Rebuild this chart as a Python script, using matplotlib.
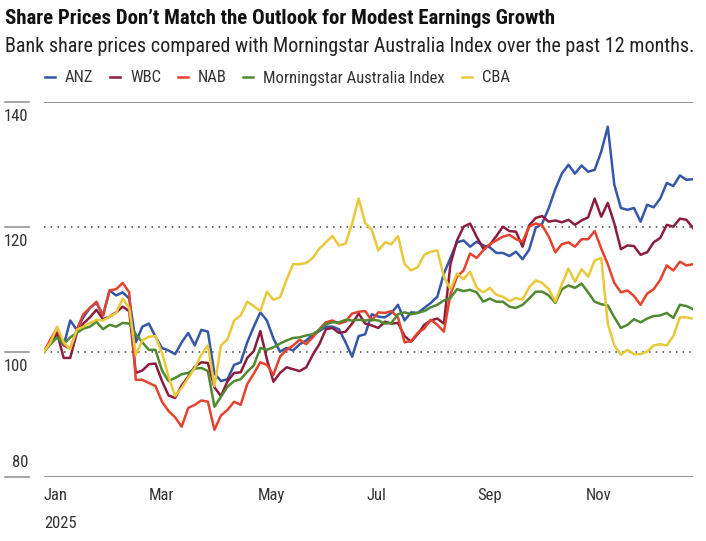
import pandas as pd
import numpy as np
import matplotlib
matplotlib.use("Agg")
import matplotlib.pyplot as plt
import matplotlib.transforms as mtransforms
from matplotlib import font_manager

# pick a condensed face, like the original chart's type
names = {f.name for f in font_manager.fontManager.ttflist}
fam = [n for n in ['Roboto Condensed', 'Archivo Narrow', 'Asap Condensed', 'Barlow Semi Condensed']
       if n in names][:1] + ['DejaVu Sans']
plt.rcParams['font.family'] = fam

# index values, sampled roughly every 3.7 days through 2025
anz = [100, 101.5, 102.5, 101, 105, 103.5, 105.5, 107, 107.8, 105.8,
       109.8, 109, 109.5, 108.5, 101.5, 104, 104.5, 102.4, 100.6, 100.2,
       99.6, 101.5, 103, 101, 103.5, 103.2, 96.5, 95.3, 95.6, 97.9,
       98.3, 101.5, 104, 106.3, 105, 102.1, 100, 100.6, 100.2, 101.2,
       101.8, 102.7, 103.3, 104, 104, 103.6, 101.5, 99.2, 102.5, 102.8,
       106, 105.6, 105.5, 106.2, 107.5, 105, 106.3, 106.2, 107, 107.8,
       108.8, 112.5, 115, 117.5, 117.8, 116.8, 117.6, 117, 116.7, 115.8,
       115.8, 115.3, 116, 114.8, 116.3, 119.8, 120.5, 123, 126, 128.5,
       129.9, 128.5, 129.8, 128.8, 129.1, 132, 136, 126.7, 123, 122.7,
       123, 120.8, 123.5, 123.1, 124.5, 127, 126.5, 128.2, 127.5, 127.6]

wbc = [100, 101.5, 103, 99, 99, 103, 104.5, 105.5, 106.7, 105.2,
       105.6, 106.3, 107.2, 106.5, 96.6, 97, 98, 98.1, 95.3, 93,
       92.6, 94.6, 96, 97.6, 98.3, 98.2, 94.3, 92.9, 95.3, 96.6,
       96.7, 99, 100.1, 103.3, 98.8, 95.2, 96.6, 97.5, 97.2, 96.9,
       97.5, 99.5, 101.2, 103.6, 103.8, 103, 103.2, 104.5, 106.1, 104.5,
       104.2, 103.8, 104.8, 104.5, 104.6, 102.5, 101.6, 102.8, 104.3, 105,
       105.3, 104.5, 114, 117.8, 120, 120.5, 118.4, 116.5, 117.1, 118.5,
       120, 119.3, 119.2, 116.8, 120.2, 121.4, 121.7, 120.8, 121, 120.7,
       121.1, 120.3, 121, 121.5, 124.5, 121.6, 123.8, 120.5, 116.4, 117,
       116.9, 115.5, 115.9, 117.5, 118.2, 120.3, 120, 121.3, 121.1, 119.8]

nab = [100, 102, 103.8, 101, 100.5, 103.5, 106, 107, 108, 105.8,
       109.8, 110, 111, 109.5, 95.5, 95.5, 95, 94.5, 92, 90.5,
       89.5, 88, 91, 91.5, 92.2, 92, 87.5, 89.8, 90.7, 92,
       91.5, 94.8, 96.5, 98.3, 97.9, 96.3, 99.2, 100.3, 101, 101.9,
       101.2, 102.3, 103.6, 104.7, 105, 104.5, 104.8, 106.1, 106.4, 106.5,
       105, 106.3, 106.2, 106.5, 105.5, 101.5, 101.7, 103, 103.7, 105.1,
       104.3, 103.2, 109.2, 112, 113, 115.7, 115, 116.2, 117.2, 117.8,
       118.4, 118.7, 118, 117.6, 120, 120.5, 120.2, 118.4, 115.9, 117.2,
       117.5, 116.8, 118, 118, 119.3, 116.5, 114, 111, 109.5, 109.8,
       108.9, 107.5, 109.3, 110, 111.5, 113.8, 113, 114.4, 113.8, 114]

msa = [100, 101.2, 102.3, 101.2, 102.3, 103, 103.7, 104, 104.8, 103.6,
       104.3, 104, 104.6, 104.5, 102.8, 101.5, 100.3, 100.3, 97, 95.3,
       95.8, 96.4, 96.6, 97.3, 97.4, 96.9, 91.2, 92.8, 94.4, 95.3,
       95.6, 96.8, 97.8, 100.6, 100.3, 100.7, 101.3, 101.8, 102.2, 102.3,
       102.6, 102.8, 103.5, 104.4, 104.7, 104.7, 105.1, 105, 105.1, 105,
       105.1, 105, 104.5, 104.6, 106, 106.3, 106, 106.2, 106.5, 107.1,
       107.5, 108.2, 108.6, 110, 109.7, 109.9, 109.5, 108, 108.5, 108,
       108, 107.2, 107, 107.5, 108.5, 109.6, 109.6, 109, 107.8, 110,
       110.6, 110.2, 110.9, 109.5, 108, 107.6, 107.4, 105.5, 103.8, 104.3,
       105.2, 104.7, 105.3, 105.7, 105.8, 106.2, 105.4, 107.5, 107.3, 106.8]

cba = [100, 101.5, 104, 101.5, 100.4, 103.5, 104, 104.6, 105.1, 105,
       105.6, 106.2, 108.5, 107, 99.5, 101.8, 102.4, 102.5, 99.8, 96,
       92.9, 94.2, 95.8, 97.4, 99.5, 101, 94.5, 101, 102, 105,
       105.8, 108, 107.3, 106.5, 109.6, 108.3, 108.7, 111.5, 114, 114,
       114.2, 115, 116.5, 117.5, 118.5, 117, 117.3, 120.5, 124.5, 120.6,
       119.5, 116.2, 117.5, 117.2, 118.5, 114, 113, 113.5, 115.5, 116,
       116.2, 112, 110, 112.5, 111.6, 112.8, 110.2, 109.5, 110.2, 109.1,
       108.8, 108.1, 108.6, 108.3, 110.3, 111.4, 111, 110, 108, 110.8,
       113.3, 111.2, 113.2, 112, 114.6, 115, 104.5, 101, 99.5, 100.3,
       99.6, 99.6, 100, 101, 101.2, 101, 102.5, 105.5, 105.5, 105.3]

dates = pd.date_range('2025-01-01', '2025-12-31', periods=len(anz))

series = [('ANZ', anz, '#3656a8'),
          ('WBC', wbc, '#8b1d3f'),
          ('NAB', nab, '#e4432d'),
          ('Morningstar Australia Index', msa, '#4f8a30'),
          ('CBA', cba, '#e9c93b')]

month_ticks = pd.to_datetime(['2025-01-01', '2025-03-01', '2025-05-01',
                              '2025-07-01', '2025-09-01', '2025-11-01'])
month_labels = ['Jan', 'Mar', 'May', 'Jul', 'Sep', 'Nov']
y_ticks = [80, 100, 120, 140]

W, H = 706, 541
fig = plt.figure(figsize=(W / 100, H / 100), dpi=100)
ax = fig.add_axes([44 / W, 1 - 476.7 / H, (693 - 44) / W, 375 / H])

for name, vals, col in series:
    ax.plot(dates, vals, color=col, lw=1.8, label=name, solid_joinstyle='round')

ax.set_ylim(80, 140)
ax.set_xlim(dates[0], dates[-1])
for s in ax.spines.values():
    s.set_visible(False)

ax.axhline(140, color='#6f6f6f', lw=1.1, zorder=0)
ax.axhline(80, color='#8a8a8a', lw=1.3, zorder=0)
for v in [100, 120]:
    ax.axhline(v, color='#444444', lw=1.1, ls=(0, (1, 3.4)), zorder=0)

# y labels drawn at the left edge of the figure
ax.set_yticks([])
blend = mtransforms.blended_transform_factory(fig.transFigure, ax.transData)
for v in y_ticks:
    ax.plot([5 / W, 29 / W], [v, v], transform=blend, color='#8a8a8a', lw=1.1, clip_on=False)
    if v == 80:
        ax.annotate(str(v), xy=(28 / W, v), xycoords=blend, xytext=(0, 5),
                    textcoords='offset points', ha='right', va='bottom',
                    fontsize=12, color='#333333')
    else:
        ax.annotate(str(v), xy=(28 / W, v), xycoords=blend, xytext=(0, -5),
                    textcoords='offset points', ha='right', va='top',
                    fontsize=12, color='#333333')

ax.set_xticks(month_ticks)
ax.set_xticklabels(month_labels, ha='left')
ax.tick_params(axis='x', length=0, pad=8, labelsize=12, labelcolor='#333333')
ax.text(44 / W, 1 - 524 / H, '2025', transform=fig.transFigure, fontsize=12,
        color='#333333', ha='left', va='center')

fig.text(5 / W, 1 - 18 / H, "Share Prices Don\u2019t Match the Outlook for Modest Earnings Growth",
         fontsize=15, fontweight='bold', ha='left', va='center', color='#111111')
fig.text(5 / W, 1 - 46 / H, "Bank share prices compared with Morningstar Australia Index over the past 12 months.",
         fontsize=14.5, ha='left', va='center', color='#222222')

fig.legend(loc='center left', bbox_to_anchor=(45 / W, 1 - 78 / H), ncol=5, frameon=False,
           fontsize=12, handlelength=0.6, handletextpad=0.6, columnspacing=1.0,
           borderaxespad=0, borderpad=0, labelcolor='#333333')

fig.savefig('out.png', dpi=100)
